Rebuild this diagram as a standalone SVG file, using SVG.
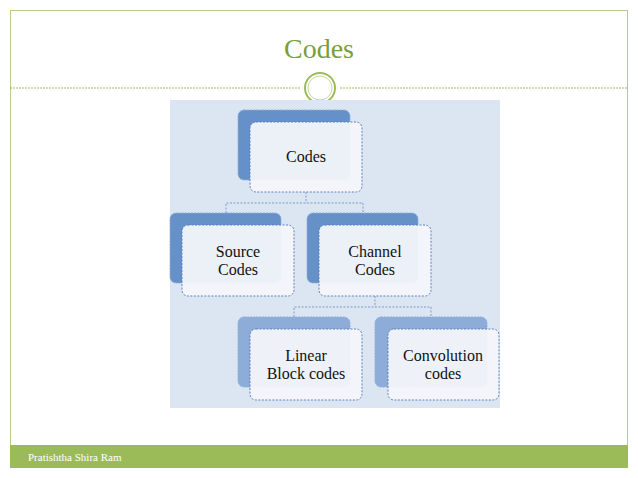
<svg xmlns="http://www.w3.org/2000/svg" width="638" height="478" viewBox="0 0 638 478">
<style>
.back{fill:#6690C8;stroke:#8FAEDA;stroke-width:1;stroke-dasharray:2 1}
.front{fill:#F3F6FA;stroke:#5B82C0;stroke-width:1;stroke-dasharray:2 1.5;fill-opacity:0.95}
.lbl{font-family:"Liberation Serif","DejaVu Serif",serif;font-size:16px;fill:#111;text-anchor:middle}
.conn{fill:none;stroke:#7C9CCB;stroke-width:1;stroke-dasharray:2 1.5}
</style>
<rect width="638" height="478" fill="#fff"/>
<rect x="10.5" y="10.5" width="617" height="457" fill="none" stroke="#B5CC8A" stroke-width="1"/>
<rect x="10" y="445" width="618" height="23" fill="#9BBB59"/>
<text x="28" y="461" font-family="Liberation Serif,serif" font-size="11" fill="#fff">Pratishtha Shira Ram</text>
<text x="319" y="58" font-family="Liberation Serif,serif" font-size="28" fill="#77A03A" text-anchor="middle">Codes</text>
<line x1="10" y1="88" x2="300" y2="88" stroke="#9BBB59" stroke-dasharray="2 1"/>
<line x1="340" y1="88" x2="628" y2="88" stroke="#9BBB59" stroke-dasharray="2 1"/>
<circle cx="320" cy="88" r="15" fill="#fff" stroke="#9BBB59" stroke-width="2"/>
<circle cx="320" cy="88" r="12" fill="none" stroke="#C3D69B" stroke-width="1"/>
<rect x="170" y="100" width="330" height="308" fill="#DCE6F2"/>
<g id="connectors">
<path class="conn" d="M306 192V203M226 213V203H363V213"/>
<path class="conn" d="M375 296V307M294 317V307H431V317"/>
</g>
<g id="codes"><rect class="back" x="238" y="110" width="112" height="70" rx="6"/><rect class="front" x="250" y="122" width="112" height="70" rx="6"/><text class="lbl" x="306" y="162">Codes</text></g>
<g id="source"><rect class="back" x="170" y="213" width="111" height="70" rx="6"/><rect class="front" x="182" y="225" width="112" height="71" rx="6"/><text class="lbl" x="238" y="257">Source</text><text class="lbl" x="238" y="275">Codes</text></g>
<g id="channel"><rect class="back" x="307" y="213" width="111" height="70" rx="6"/><rect class="front" x="319" y="225" width="112" height="71" rx="6"/><text class="lbl" x="375" y="257">Channel</text><text class="lbl" x="375" y="275">Codes</text></g>
<g id="linear"><rect class="back" x="238" y="317" width="112" height="70" rx="6" style="fill:#8EACD8"/><rect class="front" x="250" y="329" width="112" height="71" rx="6"/><text class="lbl" x="306" y="361">Linear</text><text class="lbl" x="306" y="379">Block codes</text></g>
<g id="convolution"><rect class="back" x="375" y="317" width="112" height="70" rx="6" style="fill:#8EACD8"/><rect class="front" x="388" y="329" width="111" height="71" rx="6"/><text class="lbl" x="443" y="361">Convolution</text><text class="lbl" x="443" y="379">codes</text></g>
</svg>
